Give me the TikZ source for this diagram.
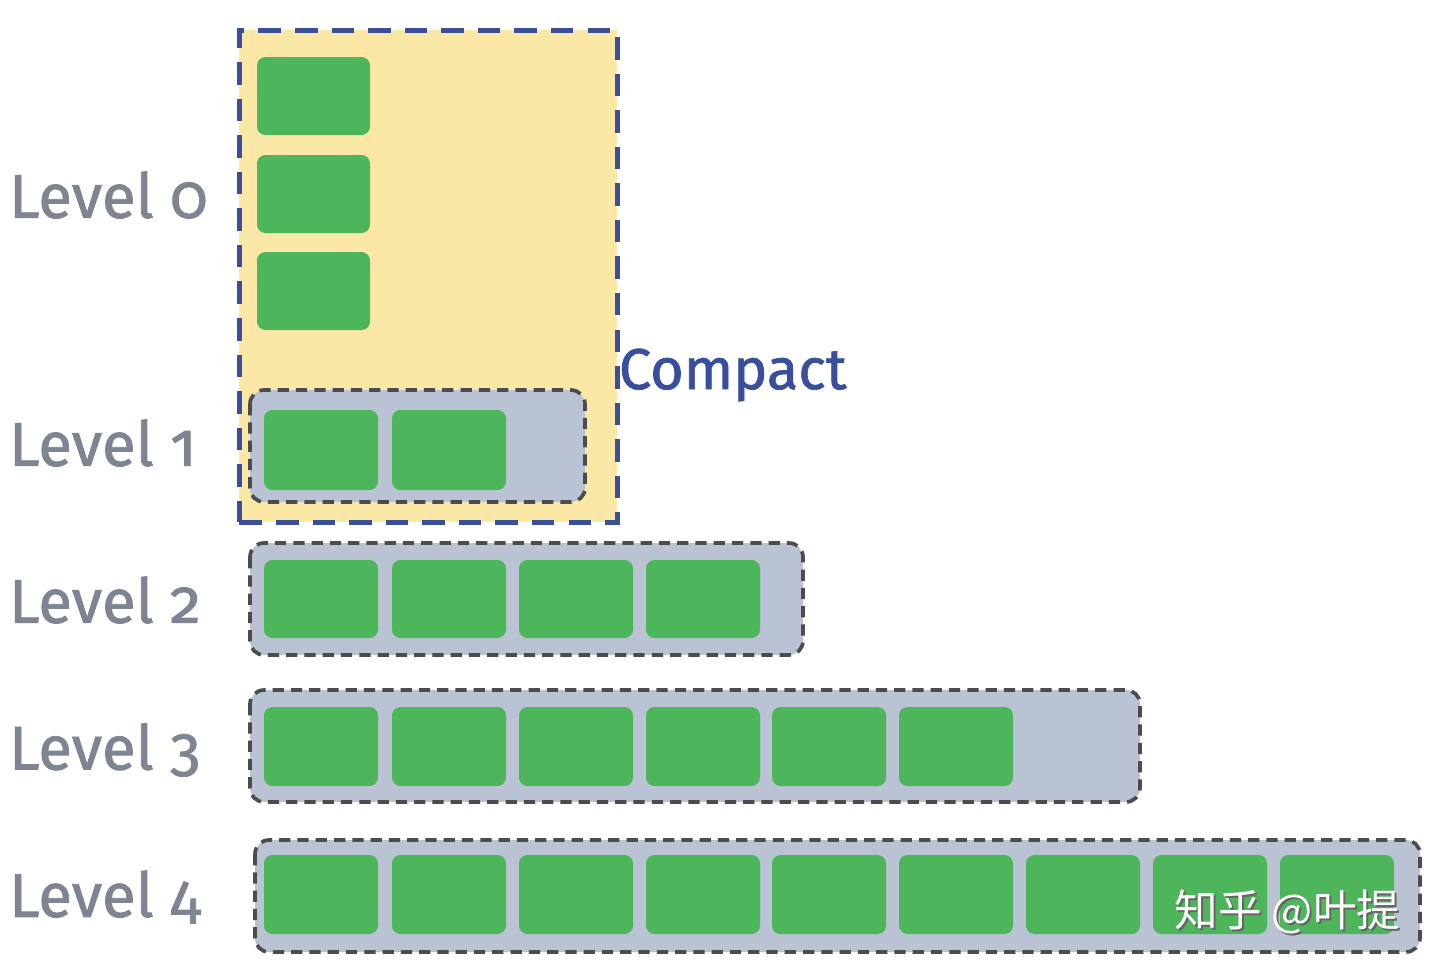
\documentclass[tikz,border=0pt]{standalone}
\usepackage{fontspec}
\setmainfont{Fira Sans}[Numbers=OldStyle]
\newfontfamily\labfont{Fira Sans}[Numbers=OldStyle,FakeBold=1.2]
\newfontfamily\cjk{Noto Sans CJK SC}
\definecolor{grn}{HTML}{4DB55A}
\definecolor{cont}{HTML}{B9C3D3}
\definecolor{yel}{HTML}{FBE8A6}
\definecolor{blu}{HTML}{3A4F9C}
\definecolor{lbl}{HTML}{7F8590}
\begin{document}
\begin{tikzpicture}[x=0.025cm,y=-0.025cm,
  blk/.style={fill=grn,rounded corners=6pt,draw=none},
  con/.style={fill=cont,draw=black!70,line width=2.6pt,dash pattern=on 8pt off 5pt,rounded corners=10pt},
  lab/.style={text=lbl,font=\labfont\fontsize{44}{52}\selectfont,anchor=west}]
\useasboundingbox (0,0) rectangle (1444,974);
\fill[white] (0,0) rectangle (1444,974);
\node[draw=blu,fill=yel,line width=3.5pt,dash pattern=on 16pt off 10pt,minimum width=378*0.025cm,minimum height=492*0.025cm,anchor=north west,inner sep=0] (l0) at (237,28) {};
\foreach \y [count=\i] in {57,155,252} \draw[blk] (257,\y) rectangle ++(113,78);
% containers
\draw[con] (250,390) rectangle (585,502);
\draw[con] (250,543) rectangle (803,655);
\draw[con] (250,690) rectangle (1140,802);
\draw[con] (255,840) rectangle (1420,952);
\foreach \x in {264,392} \draw[blk] (\x,410) rectangle ++(114,80);
\foreach \x in {264,392,519,646} \draw[blk] (\x,560) rectangle ++(114,78);
\foreach \x in {264,392,519,646,772,899} \draw[blk] (\x,707) rectangle ++(114,79);
\foreach \x in {264,392,519,646,772,899,1026,1153,1280} \draw[blk] (\x,855) rectangle ++(114,79);
\node[lab] (t0) at (4,195) {Level 0};
\node[lab] (t1) at (4,443) {Level 1};
\node[lab] (t2) at (4,600) {Level 2};
\node[lab] (t3) at (4,750) {Level 3};
\node[lab] (t4) at (4,897) {Level 4};
\node[anchor=west,text=blu,font=\labfont\fontsize{41}{50}\selectfont] (cp) at (614,375) {Compact};
\node[anchor=west,text=black!60,font=\cjk\fontsize{31}{36}\selectfont] at (1172,914) {知乎 @叶提};
\node[anchor=west,text=white,font=\cjk\fontsize{31}{36}\selectfont] (wm) at (1170,912) {知乎 @叶提};
\end{tikzpicture}
\end{document}
